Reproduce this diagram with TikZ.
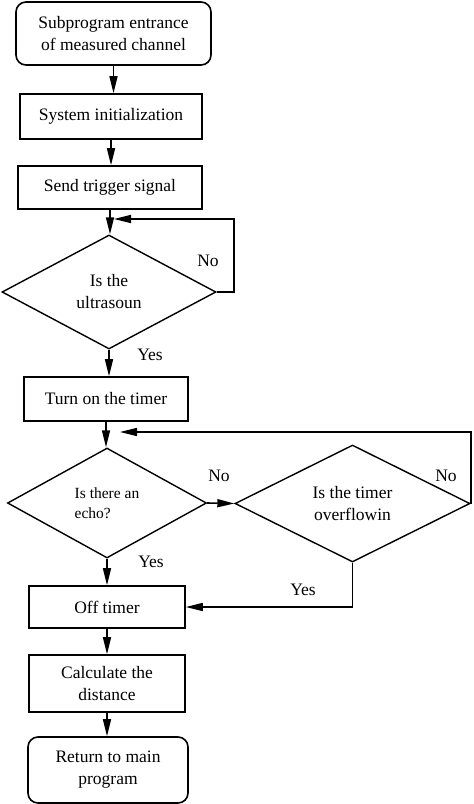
\documentclass[tikz,border=0pt]{standalone}
\usepackage{fontspec}
\setmainfont{Liberation Serif}
\usetikzlibrary{shapes.geometric,arrows.meta}
\begin{document}
\begin{tikzpicture}[x=1pt,y=-1pt,
  every node/.style={font=\fontsize{17.5}{22}\selectfont},
  box/.style={draw,line width=1.6pt,inner sep=0pt,align=center},
  term/.style={box,rounded corners=10pt},
  dec/.style={draw,line width=1.4pt,diamond,inner sep=0pt,align=center},
  arr/.style={line width=1.6pt,-{Triangle[length=17pt,width=8pt]}},
  lab/.style={inner sep=0pt}]
\useasboundingbox (0,0) rectangle (474,804);
\node[term,minimum width=195pt,minimum height=63pt] (start) at (113.5,33.5) {Subprogram entrance\\of measured channel};
\node[box,minimum width=182pt,minimum height=45pt] (init) at (111,116.5) {System initialization};
\node[box,minimum width=184pt,minimum height=43pt] (trig) at (110,187.5) {Send trigger signal};
\node[dec,minimum width=214pt,minimum height=114pt,aspect=1.877] (d1) at (109,292) {Is the\\ultrasoun};
\node[box,minimum width=164pt,minimum height=44pt] (timer) at (106,399) {Turn on the timer};
\node[dec,minimum width=199pt,minimum height=110pt,aspect=1.81,align=left,font=\fontsize{15.5}{20}\selectfont] (d2) at (107,503) {Is there an\\echo?};
\node[dec,minimum width=235pt,minimum height=117pt,aspect=2.0] (d3) at (352.5,503.5) {Is the timer\\overflowin};
\node[box,minimum width=156pt,minimum height=42pt] (off) at (107,607) {Off timer};
\node[box,minimum width=156pt,minimum height=57pt] (calc) at (107,683.5) {Calculate the\\distance};
\node[term,minimum width=160pt,minimum height=66pt] (ret) at (108,770) {Return to main\\program};
\coordinate (j1) at (114,219);
\coordinate (j2) at (120,432);
\draw[arr] (start.south) -- (start.south |- init.north);
\draw[arr] (init.south) -- (init.south |- trig.north);
\draw[arr] (trig.south) -- (trig.south |- d1.north);
\draw[arr] (d1.east) -- ++(17,0) |- (j1);
\draw[arr] (d1.south) -- (d1.south |- timer.north);
\draw[arr] (timer.south) -- (timer.south |- d2.north);
\draw[arr] (d2.east) -- (d3.west);
\draw[arr] (d3.east) |- (j2);
\draw[arr] (d2.south) -- (d2.south |- off.north);
\draw[arr] (d3.south) |- (off.east);
\draw[arr] (off.south) -- (off.south |- calc.north);
\draw[arr] (calc.south) -- (calc.south |- ret.north);
\node[lab] (l1) at (208,261) {No};
\node[lab] (l2) at (150,355) {Yes};
\node[lab] (l3) at (219,476) {No};
\node[lab] (l4) at (446,476) {No};
\node[lab] (l5) at (151,562) {Yes};
\node[lab] (l6) at (303,590) {Yes};
\end{tikzpicture}
\end{document}
